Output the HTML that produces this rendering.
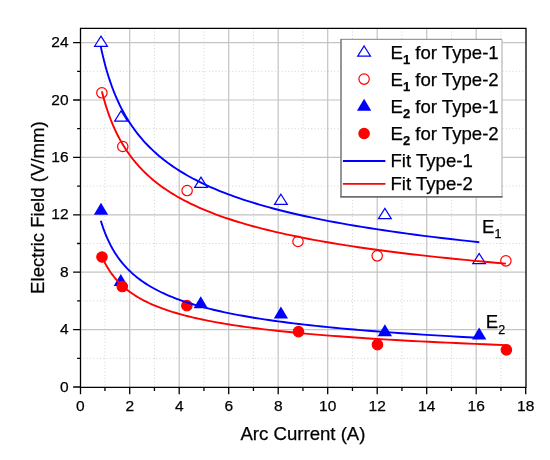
<!DOCTYPE html><html><head><meta charset="utf-8"><style>html,body{margin:0;padding:0;background:#fff}svg{display:block}text{font-family:"Liberation Sans",Arial,sans-serif;stroke:#000;stroke-width:0.25px}</style></head><body>
<svg width="550" height="460" viewBox="0 0 550 460">
<rect width="550" height="460" fill="#fff"/>
<path d="M104.95 28.25V387.00M154.45 28.25V387.00M203.95 28.25V387.00M253.45 28.25V387.00M302.95 28.25V387.00M352.45 28.25V387.00M401.95 28.25V387.00M451.45 28.25V387.00M500.95 28.25V387.00M80.20 358.30H525.70M80.20 300.90H525.70M80.20 243.50H525.70M80.20 186.10H525.70M80.20 128.70H525.70M80.20 71.30H525.70" stroke="#d2d2d2" stroke-width="1" stroke-dasharray="1 2.3" fill="none"/>
<path d="M129.70 28.25V387.00M179.20 28.25V387.00M228.70 28.25V387.00M278.20 28.25V387.00M327.70 28.25V387.00M377.20 28.25V387.00M426.70 28.25V387.00M476.20 28.25V387.00M80.20 329.60H525.70M80.20 272.20H525.70M80.20 214.80H525.70M80.20 157.40H525.70M80.20 100.00H525.70M80.20 42.60H525.70" stroke="#c4c4c4" stroke-width="1.2" fill="none"/>
<path d="M100.99 36.10L107.39 46.30L94.59 46.30Z" fill="#fff" stroke="#0000ff" stroke-width="1.2" stroke-linejoin="miter"/>
<path d="M121.04 110.86L127.44 121.06L114.64 121.06Z" fill="#fff" stroke="#0000ff" stroke-width="1.2" stroke-linejoin="miter"/>
<path d="M200.98 177.16L207.38 187.36L194.58 187.36Z" fill="#fff" stroke="#0000ff" stroke-width="1.2" stroke-linejoin="miter"/>
<path d="M280.92 194.24L287.32 204.44L274.52 204.44Z" fill="#fff" stroke="#0000ff" stroke-width="1.2" stroke-linejoin="miter"/>
<path d="M384.87 208.44L391.27 218.64L378.47 218.64Z" fill="#fff" stroke="#0000ff" stroke-width="1.2" stroke-linejoin="miter"/>
<path d="M479.17 253.50L485.57 263.70L472.77 263.70Z" fill="#fff" stroke="#0000ff" stroke-width="1.2" stroke-linejoin="miter"/>
<circle cx="101.88" cy="92.82" r="5.2" fill="#fff" stroke="#ff0000" stroke-width="1.2"/>
<circle cx="122.77" cy="146.49" r="5.2" fill="#fff" stroke="#ff0000" stroke-width="1.2"/>
<circle cx="187.12" cy="190.55" r="5.2" fill="#fff" stroke="#ff0000" stroke-width="1.2"/>
<circle cx="298.00" cy="241.49" r="5.2" fill="#fff" stroke="#ff0000" stroke-width="1.2"/>
<circle cx="377.20" cy="255.84" r="5.2" fill="#fff" stroke="#ff0000" stroke-width="1.2"/>
<circle cx="505.90" cy="260.86" r="5.2" fill="#fff" stroke="#ff0000" stroke-width="1.2"/>
<path d="M100.99 202.64L108.14 214.64L93.84 214.64Z" fill="#0000ff"/>
<path d="M120.79 273.96L127.94 285.96L113.64 285.96Z" fill="#0000ff"/>
<path d="M200.73 296.20L207.88 308.20L193.58 308.20Z" fill="#0000ff"/>
<path d="M280.92 306.39L288.07 318.39L273.77 318.39Z" fill="#0000ff"/>
<path d="M384.87 324.33L392.02 336.33L377.72 336.33Z" fill="#0000ff"/>
<path d="M479.17 327.48L486.32 339.48L472.02 339.48Z" fill="#0000ff"/>
<circle cx="101.98" cy="256.99" r="5.2" fill="#ff0000" stroke="#ff0000" stroke-width="1.2"/>
<circle cx="122.28" cy="286.55" r="5.2" fill="#ff0000" stroke="#ff0000" stroke-width="1.2"/>
<circle cx="186.87" cy="305.64" r="5.2" fill="#ff0000" stroke="#ff0000" stroke-width="1.2"/>
<circle cx="298.50" cy="331.61" r="5.2" fill="#ff0000" stroke="#ff0000" stroke-width="1.2"/>
<circle cx="377.45" cy="344.67" r="5.2" fill="#ff0000" stroke="#ff0000" stroke-width="1.2"/>
<circle cx="506.39" cy="349.83" r="5.2" fill="#ff0000" stroke="#ff0000" stroke-width="1.2"/>
<polyline points="100.84,46.90 101.36,49.34 101.90,51.75 102.44,54.15 103.00,56.53 103.58,58.89 104.17,61.24 104.77,63.56 105.39,65.88 106.02,68.17 106.68,70.45 107.34,72.72 108.03,74.96 108.73,77.19 109.45,79.41 110.18,81.61 110.94,83.79 111.71,85.96 112.51,88.11 113.32,90.25 114.16,92.37 115.01,94.48 115.89,96.57 116.79,98.65 117.71,100.71 118.66,102.76 119.63,104.79 120.62,106.81 121.64,108.81 122.68,110.80 123.75,112.77 124.85,114.73 125.98,116.68 127.13,118.61 128.31,120.53 129.53,122.44 130.77,124.33 132.04,126.21 133.35,128.07 134.69,129.92 136.06,131.76 137.47,133.59 138.91,135.40 140.39,137.20 141.91,138.98 143.47,140.76 145.06,142.52 146.70,144.27 148.37,146.00 150.09,147.72 151.85,149.43 153.66,151.13 155.51,152.82 157.41,154.49 159.35,156.16 161.35,157.81 163.39,159.45 165.49,161.07 167.64,162.69 169.84,164.29 172.10,165.88 174.42,167.47 176.79,169.04 179.22,170.59 181.72,172.14 184.28,173.68 186.90,175.20 189.59,176.72 192.35,178.22 195.17,179.71 198.07,181.20 201.04,182.67 204.09,184.13 207.21,185.58 210.41,187.02 213.69,188.45 217.06,189.87 220.51,191.28 224.04,192.68 227.67,194.07 231.38,195.45 235.19,196.82 239.10,198.18 243.10,199.53 247.21,200.87 251.42,202.20 255.73,203.52 260.16,204.83 264.69,206.13 269.34,207.43 274.11,208.71 279.00,209.98 284.01,211.25 289.14,212.51 294.41,213.75 299.81,214.99 305.34,216.22 311.02,217.44 316.83,218.66 322.80,219.86 328.91,221.06 335.18,222.24 341.60,223.42 348.19,224.59 354.95,225.75 361.87,226.90 368.97,228.05 376.25,229.18 383.71,230.31 391.36,231.43 399.20,232.55 407.24,233.65 415.48,234.75 423.93,235.84 432.59,236.92 441.47,237.99 450.58,239.05 459.91,240.11 469.48,241.16 479.29,242.21" fill="none" stroke="#0000ff" stroke-width="1.9" stroke-linejoin="round"/>
<polyline points="101.88,91.38 102.43,93.54 102.99,95.69 103.57,97.82 104.16,99.94 104.77,102.04 105.39,104.12 106.03,106.19 106.69,108.24 107.36,110.28 108.04,112.31 108.75,114.31 109.47,116.31 110.21,118.29 110.98,120.25 111.75,122.20 112.55,124.14 113.37,126.06 114.21,127.97 115.08,129.87 115.96,131.75 116.87,133.61 117.79,135.47 118.75,137.31 119.72,139.13 120.73,140.95 121.75,142.75 122.80,144.53 123.88,146.31 124.99,148.07 126.13,149.81 127.29,151.55 128.48,153.27 129.71,154.98 130.96,156.68 132.25,158.36 133.56,160.03 134.92,161.69 136.30,163.34 137.72,164.98 139.18,166.60 140.67,168.21 142.21,169.81 143.78,171.40 145.39,172.98 147.04,174.54 148.73,176.10 150.47,177.64 152.25,179.17 154.08,180.69 155.95,182.20 157.87,183.70 159.83,185.18 161.85,186.66 163.92,188.13 166.04,189.58 168.22,191.02 170.45,192.46 172.73,193.88 175.08,195.29 177.48,196.70 179.94,198.09 182.47,199.47 185.06,200.84 187.72,202.20 190.44,203.55 193.24,204.89 196.10,206.23 199.04,207.55 202.05,208.86 205.13,210.16 208.30,211.46 211.54,212.74 214.87,214.02 218.28,215.28 221.78,216.54 225.37,217.78 229.05,219.02 232.82,220.25 236.69,221.47 240.65,222.68 244.71,223.88 248.88,225.08 253.16,226.26 257.54,227.43 262.03,228.60 266.64,229.76 271.36,230.91 276.20,232.05 281.17,233.19 286.26,234.31 291.48,235.43 296.83,236.54 302.32,237.64 307.95,238.73 313.72,239.81 319.64,240.89 325.70,241.96 331.92,243.02 338.30,244.07 344.84,245.12 351.54,246.15 358.42,247.19 365.47,248.21 372.69,249.22 380.10,250.23 387.70,251.23 395.49,252.22 403.48,253.21 411.67,254.19 420.07,255.16 428.68,256.12 437.51,257.08 446.56,258.03 455.84,258.97 465.36,259.91 475.12,260.84 485.12,261.76 495.38,262.68 505.90,263.59" fill="none" stroke="#ff0000" stroke-width="1.9" stroke-linejoin="round"/>
<polyline points="100.84,220.80 101.36,222.48 101.89,224.16 102.44,225.81 103.00,227.45 103.57,229.07 104.16,230.68 104.76,232.26 105.38,233.84 106.02,235.39 106.67,236.93 107.33,238.46 108.01,239.97 108.72,241.46 109.43,242.94 110.17,244.40 110.92,245.85 111.70,247.29 112.49,248.71 113.30,250.11 114.13,251.50 114.99,252.88 115.86,254.24 116.76,255.59 117.68,256.93 118.62,258.25 119.59,259.56 120.58,260.85 121.60,262.13 122.64,263.40 123.71,264.66 124.80,265.90 125.93,267.13 127.08,268.35 128.26,269.56 129.47,270.75 130.71,271.93 131.98,273.10 133.28,274.26 134.62,275.40 135.99,276.54 137.39,277.66 138.83,278.77 140.31,279.87 141.82,280.96 143.37,282.04 144.96,283.10 146.59,284.16 148.26,285.20 149.97,286.24 151.73,287.26 153.53,288.28 155.37,289.28 157.27,290.27 159.21,291.25 161.19,292.23 163.23,293.19 165.32,294.14 167.46,295.09 169.66,296.02 171.91,296.95 174.22,297.86 176.59,298.77 179.01,299.66 181.50,300.55 184.05,301.43 186.66,302.30 189.34,303.16 192.09,304.01 194.90,304.85 197.79,305.69 200.75,306.51 203.79,307.33 206.90,308.14 210.08,308.94 213.35,309.74 216.70,310.52 220.14,311.30 223.66,312.07 227.27,312.83 230.97,313.58 234.77,314.33 238.66,315.07 242.65,315.80 246.73,316.52 250.93,317.24 255.22,317.95 259.63,318.65 264.14,319.34 268.77,320.03 273.52,320.71 278.38,321.38 283.37,322.05 288.48,322.71 293.73,323.36 299.10,324.01 304.61,324.65 310.26,325.29 316.05,325.91 321.98,326.53 328.07,327.15 334.31,327.76 340.70,328.36 347.26,328.95 353.98,329.54 360.87,330.13 367.93,330.70 375.17,331.28 382.60,331.84 390.21,332.40 398.01,332.96 406.01,333.51 414.21,334.05 422.61,334.59 431.23,335.12 440.07,335.65 449.12,336.17 458.41,336.69 467.93,337.20 477.69,337.70" fill="none" stroke="#0000ff" stroke-width="1.9" stroke-linejoin="round"/>
<polyline points="101.98,256.73 102.53,257.97 103.10,259.19 103.67,260.40 104.27,261.61 104.88,262.80 105.50,263.97 106.14,265.14 106.80,266.30 107.47,267.44 108.16,268.58 108.87,269.70 109.59,270.82 110.34,271.92 111.10,273.01 111.88,274.09 112.68,275.16 113.50,276.22 114.35,277.28 115.21,278.32 116.10,279.35 117.00,280.37 117.93,281.38 118.89,282.38 119.87,283.38 120.87,284.36 121.90,285.33 122.95,286.30 124.04,287.25 125.15,288.20 126.28,289.14 127.45,290.07 128.64,290.99 129.87,291.90 131.12,292.80 132.41,293.70 133.73,294.58 135.09,295.46 136.48,296.33 137.90,297.19 139.36,298.04 140.86,298.88 142.39,299.72 143.96,300.55 145.58,301.37 147.23,302.18 148.93,302.99 150.66,303.78 152.45,304.57 154.27,305.36 156.15,306.13 158.07,306.90 160.04,307.66 162.06,308.41 164.13,309.16 166.25,309.90 168.43,310.63 170.66,311.35 172.95,312.07 175.29,312.78 177.70,313.48 180.17,314.18 182.70,314.87 185.29,315.56 187.95,316.24 190.67,316.91 193.47,317.57 196.33,318.23 199.27,318.88 202.28,319.53 205.37,320.17 208.54,320.81 211.78,321.43 215.11,322.06 218.52,322.67 222.02,323.28 225.61,323.89 229.29,324.49 233.06,325.08 236.93,325.67 240.89,326.25 244.95,326.83 249.12,327.40 253.39,327.96 257.78,328.52 262.27,329.08 266.87,329.63 271.60,330.17 276.44,330.71 281.40,331.24 286.49,331.77 291.71,332.30 297.06,332.82 302.54,333.33 308.17,333.84 313.94,334.35 319.85,334.84 325.91,335.34 332.13,335.83 338.50,336.32 345.03,336.80 351.73,337.27 358.60,337.75 365.64,338.21 372.86,338.68 380.27,339.13 387.86,339.59 395.64,340.04 403.62,340.48 411.80,340.93 420.19,341.36 428.79,341.80 437.60,342.22 446.65,342.65 455.91,343.07 465.42,343.49 475.16,343.90 485.15,344.31 495.40,344.71 505.90,345.12" fill="none" stroke="#ff0000" stroke-width="1.9" stroke-linejoin="round"/>
<path d="M80.5 28.35H526V387.4H80.5Z" fill="none" stroke="#000" stroke-width="1.3"/>
<path d="M80.50 387.4V394.3M129.70 387.4V394.3M179.20 387.4V394.3M228.70 387.4V394.3M278.20 387.4V394.3M327.70 387.4V394.3M377.20 387.4V394.3M426.70 387.4V394.3M476.20 387.4V394.3M525.70 387.4V394.3M104.95 387.4V391M154.45 387.4V391M203.95 387.4V391M253.45 387.4V391M302.95 387.4V391M352.45 387.4V391M401.95 387.4V391M451.45 387.4V391M500.95 387.4V391M80.5 387.00H73.1M80.5 329.60H73.1M80.5 272.20H73.1M80.5 214.80H73.1M80.5 157.40H73.1M80.5 100.00H73.1M80.5 42.60H73.1M80.5 358.30H77.1M80.5 300.90H77.1M80.5 243.50H77.1M80.5 186.10H77.1M80.5 128.70H77.1M80.5 71.30H77.1" stroke="#000" stroke-width="1.3" fill="none"/>
<text x="80.20" y="411.1" font-size="15.5" text-anchor="middle">0</text>
<text x="129.70" y="411.1" font-size="15.5" text-anchor="middle">2</text>
<text x="179.20" y="411.1" font-size="15.5" text-anchor="middle">4</text>
<text x="228.70" y="411.1" font-size="15.5" text-anchor="middle">6</text>
<text x="278.20" y="411.1" font-size="15.5" text-anchor="middle">8</text>
<text x="327.70" y="411.1" font-size="15.5" text-anchor="middle">10</text>
<text x="377.20" y="411.1" font-size="15.5" text-anchor="middle">12</text>
<text x="426.70" y="411.1" font-size="15.5" text-anchor="middle">14</text>
<text x="476.20" y="411.1" font-size="15.5" text-anchor="middle">16</text>
<text x="525.70" y="411.1" font-size="15.5" text-anchor="middle">18</text>
<text x="68.6" y="391.60" font-size="15.5" text-anchor="end">0</text>
<text x="68.6" y="334.20" font-size="15.5" text-anchor="end">4</text>
<text x="68.6" y="276.80" font-size="15.5" text-anchor="end">8</text>
<text x="68.6" y="219.40" font-size="15.5" text-anchor="end">12</text>
<text x="68.6" y="162.00" font-size="15.5" text-anchor="end">16</text>
<text x="68.6" y="104.60" font-size="15.5" text-anchor="end">20</text>
<text x="68.6" y="47.20" font-size="15.5" text-anchor="end">24</text>
<text x="302.95" y="439.8" font-size="18.6" text-anchor="middle">Arc Current (A)</text>
<text transform="translate(43.9 207.62) rotate(-90)" font-size="18.6" text-anchor="middle">Electric Field (V/mm)</text>
<rect x="341" y="39.4" width="161" height="157.5" fill="#fff"/>
<path d="M341 39.4H502" stroke="#9a9a9a" stroke-width="1.1"/>
<path d="M502 39.4V196.9" stroke="#c4c4c4" stroke-width="1.5"/>
<path d="M341 38.9V196.9" stroke="#7c7c7c" stroke-width="1.6"/>
<path d="M340.2 196.9H502.6" stroke="#6e6e6e" stroke-width="1.8"/>
<path d="M364.10 46.00L370.50 56.20L357.70 56.20Z" fill="#fff" stroke="#0000ff" stroke-width="1.2" stroke-linejoin="miter"/>
<circle cx="364.10" cy="79.10" r="5.2" fill="#fff" stroke="#ff0000" stroke-width="1.2"/>
<path d="M364.10 98.70L371.25 110.70L356.95 110.70Z" fill="#0000ff"/>
<circle cx="364.10" cy="133.50" r="5.2" fill="#ff0000" stroke="#ff0000" stroke-width="1.2"/>
<path d="M342.9 161H385.4" stroke="#0000ff" stroke-width="1.9"/>
<path d="M342.9 183.9H385.4" stroke="#ff0000" stroke-width="1.9"/>
<text x="390.5" y="58.8" font-size="18.6">E<tspan font-size="13" font-weight="bold" dy="4.8">1</tspan><tspan dy="-4.8"> for Type-1</tspan></text>
<text x="390.5" y="85.7" font-size="18.6">E<tspan font-size="13" font-weight="bold" dy="4.8">1</tspan><tspan dy="-4.8"> for Type-2</tspan></text>
<text x="390.5" y="112.7" font-size="18.6">E<tspan font-size="13" font-weight="bold" dy="4.8">2</tspan><tspan dy="-4.8"> for Type-1</tspan></text>
<text x="390.5" y="140.0" font-size="18.6">E<tspan font-size="13" font-weight="bold" dy="4.8">2</tspan><tspan dy="-4.8"> for Type-2</tspan></text>
<text x="390.5" y="167.35" font-size="18.6">Fit Type-1</text>
<text x="390.5" y="189.8" font-size="18.6">Fit Type-2</text>
<text x="482" y="232.7" font-size="18.6">E<tspan font-size="12.5" dy="4.8">1</tspan></text>
<text x="485.8" y="327.8" font-size="18.6">E<tspan font-size="12.5" dy="5.7">2</tspan></text>
</svg></body></html>
